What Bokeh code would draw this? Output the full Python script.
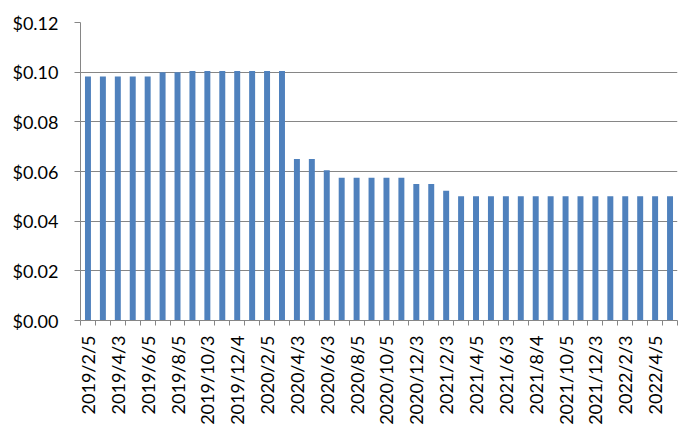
import math
from bokeh.plotting import figure
from bokeh.models import ColumnDataSource, FixedTicker, NumeralTickFormatter, Range1d
from bokeh.embed import file_html
from bokeh.resources import INLINE

dates = [
    "2019/2/5", "2019/3/5", "2019/4/3", "2019/5/3", "2019/6/5", "2019/7/3",
    "2019/8/5", "2019/9/5", "2019/10/3", "2019/11/5", "2019/12/4", "2020/1/3",
    "2020/2/5", "2020/3/4", "2020/4/3", "2020/5/5", "2020/6/3", "2020/7/3",
    "2020/8/5", "2020/9/3", "2020/10/5", "2020/11/4", "2020/12/3", "2021/1/5",
    "2021/2/3", "2021/3/3", "2021/4/5", "2021/5/5", "2021/6/3", "2021/7/6",
    "2021/8/4", "2021/9/3", "2021/10/5", "2021/11/3", "2021/12/3", "2022/1/5",
    "2022/2/3", "2022/3/3", "2022/4/5", "2022/5/4",
]
values = [
    0.0983, 0.0983, 0.0983, 0.0983, 0.0983, 0.1000, 0.1000, 0.1005, 0.1005, 0.1005,
    0.1005, 0.1005, 0.1005, 0.1005, 0.0650, 0.0650, 0.0605, 0.0575, 0.0575, 0.0575,
    0.0575, 0.0575, 0.0550, 0.0550, 0.0522, 0.0500, 0.0500, 0.0500, 0.0500, 0.0500,
    0.0500, 0.0500, 0.0500, 0.0500, 0.0500, 0.0500, 0.0500, 0.0500, 0.0500, 0.0500,
]
y_ticks = [0.0, 0.02, 0.04, 0.06, 0.08, 0.10, 0.12]

idx = list(range(len(dates)))
src = ColumnDataSource(dict(x=idx, top=values, date=dates))

GRAY = "#868686"
FONT = "Lato"

p = figure(frame_width=597, frame_height=298, output_backend="svg", toolbar_location=None,
           x_range=Range1d(-0.5, len(dates) - 0.5), y_range=Range1d(0, y_ticks[-1]),
           min_border_left=80, min_border_right=13, min_border_top=22, min_border_bottom=100)
p.vbar(x="x", top="top", width=0.4, source=src, fill_color="#4F81BD", line_color=None)

p.outline_line_color = None
p.background_fill_color = "white"
p.border_fill_color = "white"
p.xgrid.grid_line_color = None
p.ygrid.grid_line_color = GRAY
p.ygrid.grid_line_width = 1
p.ygrid.ticker = FixedTicker(ticks=y_ticks)

p.yaxis.ticker = FixedTicker(ticks=y_ticks)
p.yaxis.formatter = NumeralTickFormatter(format="$0.00")
p.yaxis.axis_line_color = GRAY
p.yaxis.major_tick_line_color = GRAY
p.yaxis.major_tick_out = 6
p.yaxis.major_tick_in = 0
p.yaxis.minor_tick_line_color = None
p.yaxis.major_label_standoff = 16
p.yaxis.major_label_text_font = FONT
p.yaxis.major_label_text_font_size = "18px"
p.yaxis.major_label_text_color = "black"

label_idx = idx[::2]
p.xaxis.ticker = FixedTicker(ticks=label_idx,
                             minor_ticks=[i - 0.5 for i in idx] + [len(idx) - 0.5])
p.xaxis.major_label_overrides = {i: dates[i] for i in label_idx}
p.xaxis.major_label_orientation = math.pi / 2
p.xaxis.axis_line_color = GRAY
p.xaxis.major_tick_line_color = None
p.xaxis.major_tick_out = 0
p.xaxis.major_tick_in = 0
p.xaxis.minor_tick_line_color = GRAY
p.xaxis.minor_tick_out = 5
p.xaxis.minor_tick_in = 0
p.xaxis.major_label_standoff = 10
p.xaxis.major_label_text_font = FONT
p.xaxis.major_label_text_font_size = "18px"
p.xaxis.major_label_text_color = "black"

open("out.html", "w").write(file_html(p, INLINE))
